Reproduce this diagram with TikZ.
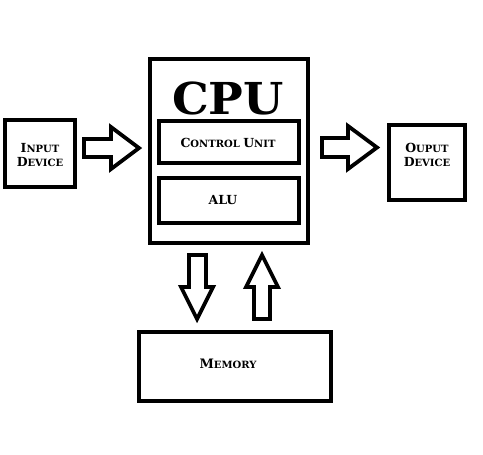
\documentclass[tikz,border=0pt]{standalone}
\usepackage{fontspec}
\setmainfont{DejaVu Serif}
\newcommand{\cgsc}[3]{{\fontsize{#1}{#1}\selectfont #2}#3}
\tikzset{
  box/.style={draw, line width=4pt, inner sep=0pt},
  blk/.style={draw, line width=3.8pt, line join=miter, fill=white},
  lbl/.style={font=\bfseries\fontsize{10}{14}\selectfont, align=center, inner sep=0pt},
}
\begin{document}
\begin{tikzpicture}[x=1pt,y=-1pt]
\useasboundingbox (0,0) rectangle (483,455);
% boxes
\node[box, minimum width=70pt, minimum height=67pt] (in) at (40,153) {};
\node[box, minimum width=158pt, minimum height=184pt] (cpu) at (229,151) {};
\node[box, minimum width=140pt, minimum height=42pt] (cu) at (229,142) {};
\node[box, minimum width=140pt, minimum height=45pt] (alu) at (229,200.5) {};
\node[box, minimum width=76pt, minimum height=75pt] (out) at (427,162.5) {};
\node[box, minimum width=192pt, minimum height=69pt] (mem) at (235,366.5) {};
% labels
\node[lbl] (tin) at (40,155) {\cgsc{12.5}{I}{NPUT}\\\cgsc{12.5}{D}{EVICE}};
\node[font=\bfseries\fontsize{44}{44}\selectfont, inner sep=0pt] (tcpu) at (228,98) {\scalebox{1.05}[1]{CPU}};
\node[lbl] (tcu) at (228,143) {\cgsc{12.5}{C}{ONTROL} \cgsc{12.5}{U}{NIT}};
\node[lbl, font=\bfseries\fontsize{12.5}{12.5}\selectfont] (talu) at (223,200) {ALU};
\node[lbl] (tout) at (427,155) {\cgsc{12.5}{O}{UPUT}\\\cgsc{12.5}{D}{EVICE}};
\node[lbl] (tmem) at (228,364) {\cgsc{13}{M}{EMORY}};
% block arrows
\draw[blk] (84,139) -- (111,139) -- (111,127) -- (139,148) -- (111,169) -- (111,157) -- (84,157) -- cycle;
\draw[blk] (322,138) -- (348,138) -- (348,126) -- (377,147.5) -- (348,169) -- (348,157) -- (322,157) -- cycle;
\draw[blk] (189,255) -- (206,255) -- (206,287) -- (213,287) -- (197,319) -- (181,287) -- (189,287) -- cycle;
\draw[blk] (254,319) -- (270,319) -- (270,287) -- (278,287) -- (262,255) -- (246,287) -- (254,287) -- cycle;
\end{tikzpicture}
\end{document}
